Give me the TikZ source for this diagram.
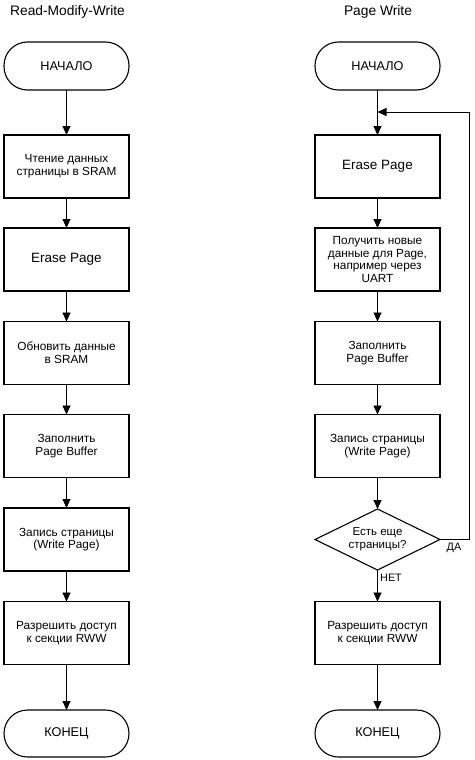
\documentclass[tikz,border=0pt]{standalone}
\usepackage{fontspec}
\setmainfont{Liberation Sans}
\usetikzlibrary{arrows.meta,shapes.geometric}
\begin{document}
\begin{tikzpicture}[x=1pt,y=1pt,
  every node/.style={inner sep=0pt, outer sep=0pt},
  procbox/.style={draw, line width=1.4pt, minimum width=125pt, minimum height=63pt, align=center, font=\fontsize{11.8}{12.7}\selectfont},
  bigtext/.style={font=\fontsize{13.5}{15}\selectfont},
  term/.style={draw, line width=1.1pt, rounded corners=23.5pt, minimum width=125pt, minimum height=48pt, font=\fontsize{12.7}{15}\selectfont},
  decision/.style={draw, diamond, aspect=2, line width=1.1pt, minimum width=125pt, minimum height=61pt, align=center, font=\fontsize{11.5}{12.7}\selectfont},
  title/.style={font=\fontsize{13.8}{16}\selectfont},
  lbl/.style={font=\fontsize{10.8}{12}\selectfont},
  flow/.style={line width=0.9pt, -{Triangle[width=8pt,length=9pt]}}
]
\useasboundingbox (0,0) rectangle (474,-760);
% titles
\node[title] (t1) at (67.5,-12) {Read-Modify-Write};
\node[title] (t2) at (378,-12) {Page Write};
% left column
\node[term] (L0) at (66.5,-66) {НАЧАЛО};
\node[procbox] (L1) at (66.5,-166.5) {Чтение данных\\страницы в SRAM};
\node[procbox,bigtext] (L2) at (66.5,-259.5) {Erase Page};
\node[procbox] (L3) at (66.5,-353) {Обновить данные\\в SRAM};
\node[procbox] (L4) at (66.5,-446) {Заполнить\\Page Buffer};
\node[procbox] (L5) at (66.5,-539.5) {Запись страницы\\(Write Page)};
\node[procbox] (L6) at (66.5,-633) {Разрешить доступ\\к секции RWW};
\node[term,minimum height=47pt] (L7) at (66.5,-733.5) {КОНЕЦ};
\foreach \a/\b in {L0/L1,L1/L2,L2/L3,L3/L4,L4/L5,L5/L6,L6/L7}
  \draw[flow] (\a) -- (\b);
% right column
\node[term] (R0) at (377.5,-66) {НАЧАЛО};
\node[procbox,bigtext] (R1) at (377.5,-166.5) {Erase Page};
\node[procbox] (R2) at (377.5,-259.5) {Получить новые\\данные для Page,\\например через\\UART};
\node[procbox] (R3) at (377.5,-353) {Заполнить\\Page Buffer};
\node[procbox] (R4) at (377.5,-446) {Запись страницы\\(Write Page)};
\node[decision] (R5) at (377.5,-539.5) {Есть еще\\страницы?};
\node[procbox] (R6) at (377.5,-633) {Разрешить доступ\\к секции RWW};
\node[term,minimum height=47pt] (R7) at (377.5,-733.5) {КОНЕЦ};
\foreach \a/\b in {R0/R1,R1/R2,R2/R3,R3/R4,R4/R5,R5/R6,R6/R7}
  \draw[flow] (\a) -- (\b);
% loop
\coordinate (J) at (377.5,-112);
\coordinate (C1) at (469,-539.5);
\coordinate (C2) at (469,-112);
\draw[flow] (R5.east) -- (C1) -- (C2) -- (J);
\node[lbl] (da) at (454,-548) {ДА};
\node[lbl] (net) at (391,-578) {НЕТ};
\end{tikzpicture}
\end{document}
